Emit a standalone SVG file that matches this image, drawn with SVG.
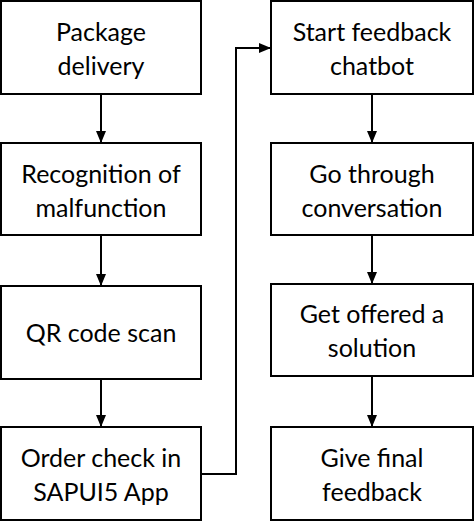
<svg xmlns="http://www.w3.org/2000/svg" width="474" height="524" viewBox="0 0 474 524">
<defs>
<style>
.box{fill:#fff;stroke:#000;stroke-width:2}
.t{font-family:Lato,"Open Sans","Liberation Sans",sans-serif;font-size:25px;fill:#000;text-anchor:middle}
.c{fill:none;stroke:#000;stroke-width:2}
</style>
<marker id="ah" viewBox="0 0 12 10" refX="12" refY="5" markerWidth="12" markerHeight="10" markerUnits="userSpaceOnUse" orient="auto">
<path d="M0,0 L12,5 L0,10 Z" fill="#000"/>
</marker>
</defs>
<rect width="474" height="524" fill="#fff"/>
<g id="connectors">
<line class="c" x1="101" y1="94" x2="101" y2="143" marker-end="url(#ah)"/>
<line class="c" x1="101" y1="235" x2="101" y2="286" marker-end="url(#ah)"/>
<line class="c" x1="101" y1="379" x2="101" y2="427" marker-end="url(#ah)"/>
<polyline class="c" points="202,474 236,474 236,48 271,48" marker-end="url(#ah)"/>
<line class="c" x1="372" y1="94" x2="372" y2="143" marker-end="url(#ah)"/>
<line class="c" x1="372" y1="235" x2="372" y2="284" marker-end="url(#ah)"/>
<line class="c" x1="372" y1="376" x2="372" y2="427" marker-end="url(#ah)"/>
</g>
<g id="n1"><rect class="box" x="1" y="1" width="200" height="93"/><text class="t" x="101" y="41">Package</text><text class="t" x="101" y="75">delivery</text></g>
<g id="n2"><rect class="box" x="1" y="143" width="200" height="92"/><text class="t" x="101" y="183">Recognition of</text><text class="t" x="101" y="217">malfunction</text></g>
<g id="n3"><rect class="box" x="1" y="286" width="200" height="93"/><text class="t" x="101" y="342">QR code scan</text></g>
<g id="n4"><rect class="box" x="1" y="427" width="200" height="93"/><text class="t" x="101" y="467">Order check in</text><text class="t" x="101" y="501">SAPUI5 App</text></g>
<g id="n5"><rect class="box" x="271" y="1" width="202" height="93"/><text class="t" x="372" y="41">Start feedback</text><text class="t" x="372" y="75">chatbot</text></g>
<g id="n6"><rect class="box" x="271" y="143" width="202" height="92"/><text class="t" x="372" y="183">Go through</text><text class="t" x="372" y="217">conversation</text></g>
<g id="n7"><rect class="box" x="271" y="284" width="202" height="92"/><text class="t" x="372" y="323">Get offered a</text><text class="t" x="372" y="357">solution</text></g>
<g id="n8"><rect class="box" x="271" y="427" width="202" height="93"/><text class="t" x="372" y="467">Give final</text><text class="t" x="372" y="501">feedback</text></g>
</svg>
